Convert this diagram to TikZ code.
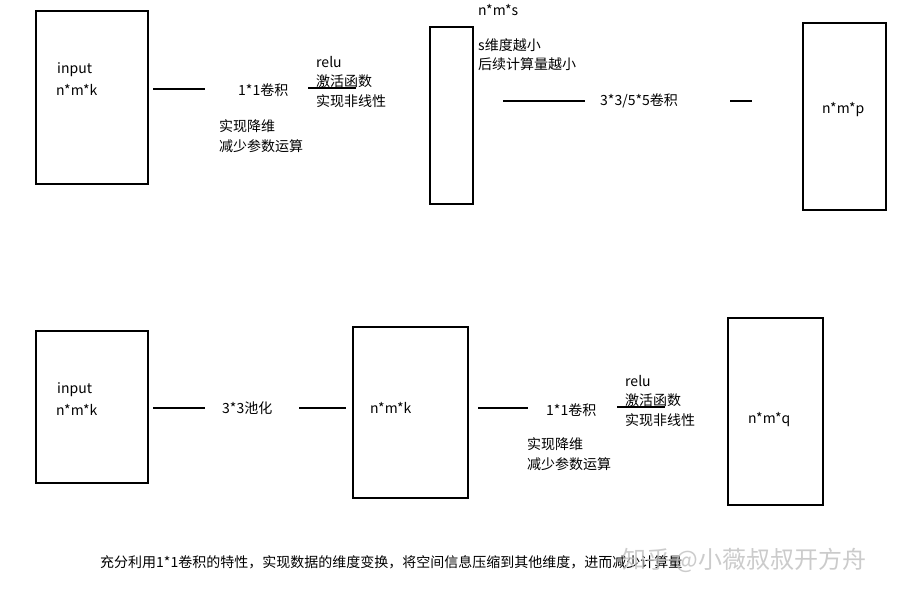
\documentclass[tikz,border=0pt]{standalone}
\usepackage{fontspec}
\setmainfont{Noto Sans CJK SC}
\begin{document}
\begin{tikzpicture}[x=1pt,y=-1pt,
  box/.style={draw,line width=2pt},
  conn/.style={line width=2pt},
  lbl/.style={anchor=west,inner sep=0,font=\fontsize{14}{16}\selectfont,align=left}]
\useasboundingbox (0,0) rectangle (913,596);
\fill[white] (0,0) rectangle (913,596);
% top
\draw[box] (36,11) rectangle (148,184);
\draw[box] (430,27) rectangle (473,204);
\draw[box] (803,23) rectangle (886,210);
\node[lbl] (a1) at (57,70) {input};
\node[lbl] (a2) at (56,90) {n*m*k};
\coordinate (t1a) at (153,89); \coordinate (t1b) at (205,89);
\draw[conn] (t1a) -- (t1b);
\node[lbl] (c1) at (238,90) {1*1卷积};
\node[lbl] (r1) at (316,62) {relu};
\node[lbl] (r2) at (316,81) {激活函数};
\node[lbl] (r3) at (316,101) {实现非线性};
\coordinate (u1a) at (308,88); \coordinate (u1b) at (356,88);
\draw[line width=1.5pt] (u1a) -- (u1b);
\node[lbl] (d1) at (219,126) {实现降维};
\node[lbl] (d2) at (219,146) {减少参数运算};
\node[lbl] (s1) at (478,10) {n*m*s};
\node[lbl] (s2) at (478,45) {s维度越小};
\node[lbl] (s3) at (478,64) {后续计算量越小};
\coordinate (t2a) at (503,101); \coordinate (t2b) at (585,101);
\draw[conn] (t2a) -- (t2b);
\node[lbl] (c2) at (600,101) {3*3/5*5卷积};
\coordinate (t3a) at (730,101); \coordinate (t3b) at (752,101);
\draw[conn] (t3a) -- (t3b);
\node[lbl] (p) at (822,110) {n*m*p};
% bottom
\draw[box] (36,331) rectangle (148,483);
\draw[box] (353,327) rectangle (468,498);
\draw[box] (728,318) rectangle (823,505);
\node[lbl] (b1) at (57,390) {input};
\node[lbl] (b2) at (56,410) {n*m*k};
\coordinate (b1a) at (153,408); \coordinate (b1b) at (205,408);
\draw[conn] (b1a) -- (b1b);
\node[lbl] (pool) at (222,408) {3*3池化};
\coordinate (b2a) at (299,408); \coordinate (b2b) at (346,408);
\draw[conn] (b2a) -- (b2b);
\node[lbl] (k2) at (370,408) {n*m*k};
\coordinate (b3a) at (478,408); \coordinate (b3b) at (528,408);
\draw[conn] (b3a) -- (b3b);
\node[lbl] (c3) at (546,410) {1*1卷积};
\node[lbl] (q1) at (625,381) {relu};
\node[lbl] (q2) at (625,400) {激活函数};
\node[lbl] (q3) at (625,420) {实现非线性};
\coordinate (u2a) at (617,407); \coordinate (u2b) at (665,407);
\draw[line width=1.5pt] (u2a) -- (u2b);
\node[lbl] (e1) at (527,444) {实现降维};
\node[lbl] (e2) at (527,464) {减少参数运算};
\node[lbl] (q) at (748,420) {n*m*q};
\node[lbl] (cap) at (100,562) {充分利用1*1卷积的特性，实现数据的维度变换，将空间信息压缩到其他维度，进而减少计算量};
\node[anchor=west,inner sep=0,text=black!25,font=\fontsize{24}{28}\selectfont,opacity=0.8] (wm) at (622,560) {知乎 @小薇叔叔开方舟};
\end{tikzpicture}
\end{document}
